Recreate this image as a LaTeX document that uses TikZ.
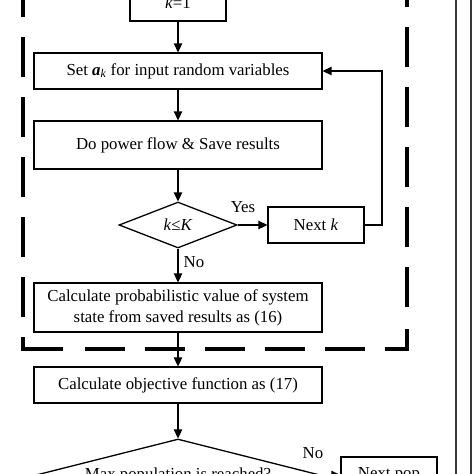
\documentclass[tikz,border=0pt]{standalone}
\usepackage{fontspec}
\setmainfont{Liberation Serif}
\usetikzlibrary{shapes.geometric,arrows.meta}
\begin{document}
\begin{tikzpicture}[x=1pt,y=-1pt,
  txt/.style={font=\fontsize{16.8}{21}\selectfont},
  box/.style={txt, draw, line width=1.3pt, inner sep=0pt, align=center, minimum width=288pt},
  smallbox/.style={txt, draw, line width=1.3pt, inner sep=0pt, align=center, minimum width=96pt, minimum height=36pt},
  decision/.style={txt, draw, line width=1.3pt, shape=diamond, inner sep=0pt, align=center},
  flow/.style={line width=1.3pt, -{Triangle[length=9pt,width=8.5pt]}},
  lbl/.style={txt, inner sep=0pt},
  frame/.style={line width=4pt, dash pattern=on 40pt off 20pt},
  framecorner/.style={line width=4pt, line join=miter},
  edge/.style={line width=2pt, draw=black!78}]
\useasboundingbox (0,0) rectangle (474,474);
\clip (0,0) rectangle (474,474);
\fill[white] (0,0) rectangle (474,474);

% nodes
\node[smallbox, minimum height=36pt] (k1) at (178,3) {\textit{k}=1};
\node[box, minimum height=36pt] (set) at (178,71) {Set \textbf{\textit{a}}\textsubscript{\textit{k}} for input random variables};
\node[box, minimum height=48pt] (pf) at (178,145) {Do power flow \& Save results};
\node[decision, minimum width=118pt, minimum height=46pt] (dec) at (178,225) {\textit{k}≤\textit{K}};
\node[smallbox] (nextk) at (316,225) {Next \textit{k}};
\node[box, minimum height=49pt] (prob) at (178,307.5) {Calculate probabilistic value of system\\state from saved results as (16)};
\node[box, minimum height=36pt] (obj) at (178,385) {Calculate objective function as (17)};
\node[decision, minimum width=284pt, minimum height=72pt, aspect=3.9] (maxd) at (178,475) {Max population is reached?};
\node[smallbox] (nextpop) at (389,475) {Next pop};
\coordinate (lp) at (382,71);

% connectors
\draw[flow] (k1.south) -- (set.north);
\draw[flow] (set.south) -- (pf.north);
\draw[flow] (pf.south) -- (dec.north);
\draw[flow] (dec.east) -- (nextk.west);
\draw[flow] (nextk.east) -| (lp) -- (set.east);
\draw[flow] (dec.south) -- (prob.north);
\draw[flow] (prob.south) -- (obj.north);
\draw[flow] (obj.south) -- (maxd.north);
\draw[flow] (maxd.east) -- (nextpop.west);

% labels
\node[lbl] (yes) at (243,207) {Yes};
\node[lbl] (no1) at (194,262) {No};
\node[lbl] (no2) at (313,453) {No};

% dashed frame
\draw[frame] (23,317) -- (23,0);
\draw[framecorner] (23,337) -- (23,349) -- (63,349);
\draw[frame] (85,349) -- (387,349);
\draw[framecorner] (387,349) -- (407,349) -- (407,329);
\draw[frame] (407,307) -- (407,0);

% right edge lines
\draw[edge] (455.7,0) -- (455.7,474);
\draw[edge] (470.7,0) -- (470.7,474);
\end{tikzpicture}
\end{document}
